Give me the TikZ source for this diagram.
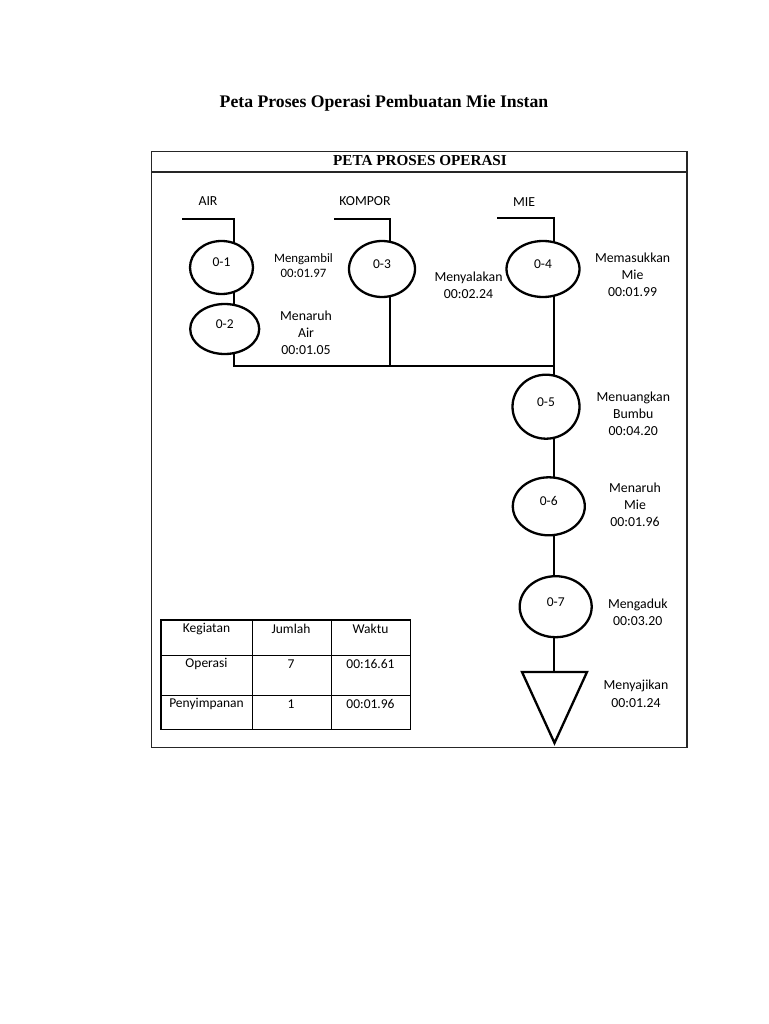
\documentclass[tikz,border=0pt]{standalone}
\usepackage{fontspec}
\setmainfont{Carlito}
\newfontfamily\timesfont{Liberation Serif}
\usetikzlibrary{shapes.geometric,backgrounds}

\tikzset{
  opnode/.style={draw, ellipse, line width=2.3pt, fill=white, inner sep=0pt, text depth=10pt,
    font=\fontsize{13.5}{15}\selectfont},
  flow/.style={line width=2.6pt},
  note/.style={align=center, font=\fontsize{13.8}{17.2}\selectfont},
  cell/.style={font=\fontsize{13.5}{15}\selectfont},
  frame/.style={line width=1.1pt, black!85},
}

\begin{document}
\begin{tikzpicture}[x=1pt,y=-1pt]
\useasboundingbox (0,0) rectangle (768,1024);
\node[font=\timesfont\bfseries\fontsize{17.7}{20}\selectfont] (title) at (384,103) {Peta Proses Operasi Pembuatan Mie Instan};
\draw[frame] (151.5,151.5) rectangle (687,747.5);
\draw[frame] (151.5,172) -- (687,172);
\node[font=\timesfont\bfseries\fontsize{15.2}{17}\selectfont] (head) at (420,161) {PETA PROSES OPERASI};

% bahan
\node[note] (lair) at (208,201) {AIR};
\node[note] (lkompor) at (365,201) {KOMPOR};
\node[note] (lmie) at (524,202) {MIE};
\coordinate (air) at (182,219);
\coordinate (kompor) at (334,219);
\coordinate (mie) at (497,218);

% operasi
\node[opnode, minimum width=63pt, minimum height=53pt] (o1) at (221.5,267.5) {0-1};
\node[opnode, minimum width=69pt, minimum height=50pt] (o2) at (224.7,329) {0-2};
\node[opnode, minimum width=66pt, minimum height=56pt] (o3) at (382,269) {0-3};
\node[opnode, minimum width=73pt, minimum height=56pt] (o4) at (543,269) {0-4};
\node[opnode, minimum width=67pt, minimum height=64pt] (o5) at (546,406.7) {0-5};
\node[opnode, minimum width=72pt, minimum height=58pt] (o6) at (548.8,506.3) {0-6};
\node[opnode, minimum width=72pt, minimum height=61pt] (o7) at (555.7,606.7) {0-7};

% penyimpanan
\coordinate (t1) at (522,672);
\coordinate (t2) at (587,672);
\coordinate (t3) at (554.5,743);
\coordinate (ttop) at (554,672);
\draw[line width=2.3pt, line join=miter] (t1) -- (t2) -- (t3) -- cycle;

\coordinate (airbus) at (234,366);
\coordinate (kbus) at (390,366);
\coordinate (mbus) at (554,366);
\begin{pgfonlayer}{background}
\draw[flow] (air) -| (airbus) -- (mbus);
\draw[flow] (kompor) -| (kbus);
\draw[flow] (mie) -| (ttop);
\end{pgfonlayer}

% keterangan
\node[note, font=\fontsize{12.8}{15.6}\selectfont] (n1) at (303.5,265.5) {Mengambil\\00:01.97};
\node[note] (n2) at (306,333) {Menaruh\\Air\\00:01.05};
\node[note] (n3) at (468.5,285.4) {Menyalakan\\00:02.24};
\node[note] (n4) at (632.6,274.5) {Memasukkan\\Mie\\00:01.99};
\node[note] (n5) at (633.3,413.6) {Menuangkan\\Bumbu\\00:04.20};
\node[note] (n6) at (635,504.8) {Menaruh\\Mie\\00:01.96};
\node[note] (n7) at (637.8,612) {Mengaduk\\00:03.20};
\node[note] (n8) at (636,693.7) {Menyajikan\\00:01.24};

% tabel
\draw[line width=1.2pt] (161,620) rectangle (410.4,729.3);
\foreach \x in {252.4,331.3}
  \draw[line width=1.2pt] (\x,620) -- (\x,729.3);
\foreach \y in {655.7,695.7}
  \draw[line width=1.2pt] (161,\y) -- (410.4,\y);
\foreach \i/\y/\a/\b/\c in {1/629/Kegiatan/Jumlah/Waktu, 2/664/Operasi/7/00:16.61, 3/704/Penyimpanan/1/00:01.96}{
  \node[cell] (k\i) at (206.5,\y) {\a};
  \node[cell] (j\i) at (291,\y) {\b};
  \node[cell] (w\i) at (370.5,\y) {\c};
}
\end{tikzpicture}
\end{document}
